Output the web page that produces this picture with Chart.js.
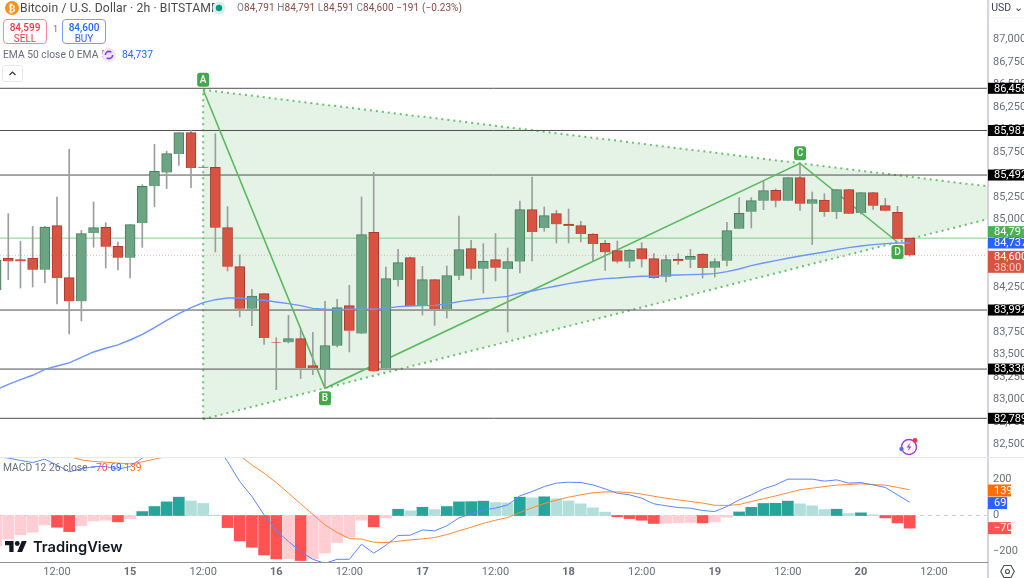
<!DOCTYPE html>
<html>
<head>
<meta charset="utf-8">
<title>BTC/USD 2h</title>
<script src="https://cdn.jsdelivr.net/npm/chart.js@4"></script>
<style>
  html, body { margin: 0; padding: 0; background: #fff; overflow: hidden; }
  body { width: 1024px; height: 578px; position: relative; font-family: Roboto, sans-serif; color: #4a4e59; }
  canvas { position: absolute; left: 0; }
  #priceChart { top: 0; }
  #macdChart { top: 457px; }
  .abs { position: absolute; white-space: nowrap; }
  .sep { left: 0; top: 457px; width: 1024px; height: 1px; background: #e4e6ec; }
  .title { left: 20px; top: 0; font-size: 12.2px; line-height: 16px; color: #4a4a4a; letter-spacing: 0.1px; }
  .ohlc { left: 237px; top: 1px; font-size: 10px; line-height: 14px; color: #8a4a45; letter-spacing: 0.1px; }
  .ohlc i { font-style: normal; color: #7b7e88; }
  .box { top: 19px; width: 42px; height: 22px; border-radius: 4px; text-align: center; font-size: 10px; line-height: 11px; background: #fff; padding-top: 2px; height: 21px; }
  .box b { font-weight: 500; display: block; }
  .sell { left: 3px; border: 1px solid #f58a95; color: #f23645; }
  .buy { left: 62px; border: 1px solid #7d9dff; color: #2962ff; }
  .ema { left: 3px; top: 48px; font-size: 10.3px; line-height: 14px; color: #6a6d78; }
  .chev { left: 2px; top: 65px; width: 19px; height: 15px; border: 1px solid #e6e8ee; border-radius: 3px; background: #fff; }
  .usd { left: 990px; top: 0; width: 34px; height: 17px; background: #fff; font-size: 10.5px; line-height: 16px; color: #3c4256; box-shadow: 0 0 3px #e4e6ec; text-align: center; }
  .macdLeg { left: 3px; top: 461px; font-size: 10.3px; line-height: 14px; color: #6a6d78; }
  .logoText { left: 33px; top: 535px; font-family: Inter, sans-serif; font-weight: 600; font-size: 14.7px; line-height: 24px; color: #131722; }
</style>
</head>
<body>
<canvas id="priceChart" width="1024" height="457"></canvas>
<canvas id="macdChart" width="1024" height="121"></canvas>
<div class="abs sep"></div>

<svg class="abs" style="left:5px;top:1px" width="14" height="14"><circle cx="7" cy="7" r="7" fill="#f7931a"/><text x="7" y="10.5" font-size="10" font-weight="700" fill="#fff" text-anchor="middle" font-family="DejaVu Sans">₿</text></svg>
<div class="abs title">Bitcoin / U.S. Dollar · 2h · BITSTAMP</div>
<svg class="abs" style="left:212px;top:1px" width="14" height="14"><circle cx="7" cy="7" r="6.5" fill="#d8efec"/><circle cx="7" cy="7" r="3.2" fill="#089981"/></svg>
<div class="abs ohlc"><i>O</i>84,791 <i>H</i>84,791 <i>L</i>84,591 <i>C</i>84,600 −191 (−0.23%)</div>
<div class="abs box sell"><b>84,599</b>SELL</div>
<div class="abs" style="left:53px;top:24px;font-size:9px;color:#6a6d78">1</div>
<div class="abs box buy"><b>84,600</b>BUY</div>
<div class="abs ema">EMA 50 close 0 EMA 50</div>
<svg class="abs" style="left:102px;top:48px" width="14" height="14"><circle cx="7" cy="7" r="7" fill="#eee6fb"/><circle cx="7" cy="7" r="3.6" fill="none" stroke="#7c3fe0" stroke-width="1.6" stroke-dasharray="8 3"/></svg>
<div class="abs ema" style="left:122px;color:#2962ff">84,737</div>
<div class="abs chev"><svg width="19" height="15"><path d="M6.5 9 L9.5 6 L12.5 9" fill="none" stroke="#333" stroke-width="1.2"/></svg></div>
<div class="abs usd">USD ⌄</div>
<div class="abs macdLeg">MACD 12 26 close <span style="color:#ff5252">−70</span> <span style="color:#2962ff">69</span> <span style="color:#ff6d00">139</span></div>

<svg class="abs" style="left:5px;top:541px" width="22" height="11" viewBox="0 4 36 18"><path d="M14 22H7V11H0V4h14v18zM28 22h-8l7.5-18h8L28 22z" fill="#131722"/><circle cx="20" cy="8" r="4" fill="#131722"/></svg>
<div class="abs logoText">TradingView</div>

<svg class="abs" style="left:898px;top:437px" width="22" height="20"><circle cx="11" cy="10" r="7.5" fill="none" stroke="#a23cc4" stroke-width="1.4"/><path d="M12.5 5.5 L8.5 10.5 H11 L9.5 14.5 L13.5 9.5 H11 Z" fill="#a23cc4"/><circle cx="17" cy="3.5" r="2.4" fill="#f23645"/><circle cx="3.5" cy="12" r="2.2" fill="#5b6cf0"/></svg>
<svg class="abs" style="left:1000px;top:564px" width="15" height="15" viewBox="0 0 15 15"><path d="M4 1.5 H11 L14.3 7.5 L11 13.5 H4 L0.7 7.5 Z" fill="none" stroke="#4a4e59" stroke-width="1.1"/><circle cx="7.5" cy="7.5" r="2" fill="none" stroke="#4a4e59" stroke-width="1.1"/></svg>

<script>
// candles, one per 2h, first one is cut by the left edge
const candleOpen = [84211,84570,84552,84570,84441,84930,84352,84089,84848,84911,84700,84574,84959,85367,85519,85726,85963,85574,85578,84907,84474,84007,84174,83633,83633,83674,83374,83333,83596,84041,83730,84856,83348,84326,84574,84037,84330,84004,84374,84674,84452,84552,84448,84530,85107,84904,85063,84948,84930,84837,84733,84652,84530,84674,84563,84363,84559,84552,84615,84463,84541,84896,85085,85207,85322,85207,85463,85174,85215,85081,85330,85070,85296,85152,85078,84791];
const candleHigh = [84570,85063,84756,84922,84922,85248,85778,84878,85193,84963,84748,84941,85385,85833,85759,85963,85989,85581,85952,85141,84604,84222,84174,83685,83933,83785,83744,84089,84111,84267,85248,85522,84470,84667,84581,84478,84330,84481,85037,84767,84730,84841,84681,85204,85470,85137,85100,85115,84978,84841,84767,84759,84667,84741,84618,84600,84618,84667,84618,84563,84967,85241,85241,85426,85337,85463,85611,85304,85285,85333,85333,85296,85296,85233,85144,84791];
const candleLow = [84190,84330,84237,84248,84296,84059,83726,83870,84689,84459,84437,84348,84689,85141,85341,85600,85352,85574,84637,84426,83915,83819,83611,83107,83626,83230,83274,83137,83581,83526,83730,83311,83341,84256,84037,83937,83822,83904,84330,84333,84181,84315,83748,84404,84537,84867,84737,84737,84748,84537,84433,84515,84463,84470,84344,84304,84500,84463,84348,84359,84481,84896,84904,85107,85137,85207,85100,84719,85033,85007,85063,85056,85111,85093,84781,84591];
const candleClose = [84544,84533,84533,84441,84915,84348,84089,84841,84907,84696,84574,84941,85367,85533,85730,85963,85570,85581,84907,84474,84007,84148,83681,83630,83674,83348,83352,83596,84018,83763,84830,83311,84341,84518,84037,84330,84004,84374,84663,84452,84537,84463,84530,85107,84859,85041,84944,84926,84837,84726,84633,84530,84659,84556,84348,84552,84537,84589,84459,84530,84874,85067,85207,85319,85207,85463,85174,85219,85081,85330,85063,85296,85152,85096,84781,84600];
const emaLine = [83107,83167,83219,83267,83333,83370,83404,83467,83526,83567,83604,83659,83722,83796,83878,83952,84019,84074,84107,84126,84126,84111,84100,84081,84063,84041,84011,84000,83996,84000,84000,84000,84011,84030,84037,84041,84044,84059,84085,84104,84119,84130,84144,84181,84204,84233,84259,84285,84307,84326,84341,84348,84359,84367,84370,84378,84381,84385,84389,84396,84419,84448,84485,84515,84541,84567,84593,84615,84637,84663,84685,84704,84719,84730,84737,84737];

// MACD pane, same candle order
const macdHist = [-170,-131,-107,-93,-52,-65,-89,-56,-30,-26,-35,-17,22,50,76,102,81,67,2,-67,-141,-176,-219,-241,-240,-250,-241,-209,-150,-120,-26,-63,-13,35,26,46,33,50,76,77,80,72,70,102,98,104,93,81,65,43,19,-7,-17,-26,-44,-43,-39,-38,-41,-35,-9,20,46,67,68,80,65,54,33,35,11,15,4,-13,-41,-70];
const macdLine = [328,319,306,294,313,280,243,259,272,272,257,272,319,383,439,457,457,439,393,300,189,106,4,-83,-144,-200,-243,-265,-243,-243,-159,-209,-165,-111,-109,-80,-85,-57,-13,9,31,41,59,109,133,161,180,185,183,170,148,124,115,96,65,54,44,41,28,22,50,87,115,148,170,202,202,202,191,198,180,183,170,156,115,74];
const signalLine = [439,430,411,393,374,350,328,309,300,296,291,287,298,313,328,346,365,383,393,374,333,281,235,183,124,65,6,-52,-94,-128,-131,-148,-150,-143,-135,-130,-122,-106,-85,-65,-43,-26,-11,17,43,67,85,102,115,126,131,131,128,119,107,96,87,78,69,57,56,61,78,93,109,126,143,152,161,169,172,176,172,169,156,143];

const priceTicks = [87000,86750,86500,86250,86000,85750,85500,85250,85000,84750,84500,84250,84000,83750,83500,83250,83000,82750,82500];
const macdTicks = [200,0,-200];
const timeTickAt = [5,11,17,23,29,35,41,47,53,59,65,71,77];
const timeLabels = ['12:00','15','12:00','16','12:00','17','12:00','18','12:00','19','12:00','20','12:00'];

const levels = [86456,85987,85492,83992,83336,82789];
const lastOpen = 84791;
const lastClose = 84600;
const lastEma = 84737;

// ABCD triangle, index and price
const patternIdx = [17,27,66,74];
const patternPrice = [86440,83122,85622,84748];
const patternNames = ['A','B','C','D'];
const upperEdgePrice = [86440,85367];
const lowerEdgePrice = [82778,85000];

const xMin = 0.319;
const xMax = 81.35;
const green = '#6ba583';
const red = '#d75442';
const greenDark = '#4a7c60';
const redDark = '#a53d30';
const axisFont = '"Liberation Sans Narrow", Roboto, sans-serif';
const tagFont = '11px ' + axisFont;

function fmt(v) {
  return v.toLocaleString('en-US').replace('-', '\u2212');
}
function edge(prices) {
  return [{x: patternIdx[0], y: prices[0]}, {x: xMax, y: prices[1]}];
}
function flat(v) {
  return [{x: xMin, y: v}, {x: xMax, y: v}];
}
function tag(ctx, y, h, w, bg, lines) {
  ctx.fillStyle = bg;
  ctx.fillRect(988, y - h / 2, w, h);
  ctx.textAlign = 'left';
  ctx.textBaseline = 'middle';
  lines.forEach(function(l, n) {
    ctx.font = tagFont;
    ctx.fillStyle = l.c || '#fff';
    ctx.fillText(l.t, 994, y + (n - (lines.length - 1) / 2) * 11 + 0.5);
  });
}

const axisLine = {
  id: 'axisLine',
  beforeDraw(chart) {
    const ctx = chart.ctx;
    ctx.save();
    ctx.fillStyle = '#d3d5da';
    ctx.fillRect(987, 0, 2, chart.height);
    ctx.restore();
  }
};

const priceTags = {
  id: 'priceTags',
  afterDraw(chart) {
    const ctx = chart.ctx;
    const y = chart.scales.y;
    const x = chart.scales.x;
    ctx.save();
    levels.forEach(function(v) {
      tag(ctx, y.getPixelForValue(v), 11, 36, '#000', [{t: fmt(v)}]);
    });
    // these three sit apart from their real price so they do not overlap
    tag(ctx, y.getPixelForValue(lastOpen) - 6.5, 11, 36, '#4caf50', [{t: fmt(lastOpen)}]);
    tag(ctx, y.getPixelForValue(lastEma), 11, 36, '#2962ff', [{t: fmt(lastEma)}]);
    tag(ctx, y.getPixelForValue(lastClose) + 6.5, 22, 36, red, [{t: fmt(lastClose)}, {t: '38:00', c: '#f6c8c0'}]);

    const shift = [-10, 10, -10, 10];
    patternNames.forEach(function(n, i) {
      const px = x.getPixelForValue(patternIdx[i]);
      const py = y.getPixelForValue(patternPrice[i]) + shift[i];
      ctx.fillStyle = '#43a84a';
      ctx.beginPath();
      ctx.roundRect(px - 6, py - 7, 12, 14, 2.5);
      ctx.fill();
      ctx.fillStyle = '#fff';
      ctx.font = '500 10px Roboto';
      ctx.textAlign = 'center';
      ctx.textBaseline = 'middle';
      ctx.fillText(n, px, py + 0.5);
    });
    ctx.restore();
  }
};

const macdTags = {
  id: 'macdTags',
  afterDraw(chart) {
    const ctx = chart.ctx;
    const y = chart.scales.y;
    ctx.save();
    tag(ctx, y.getPixelForValue(139), 12, 23, '#ff6d00', [{t: '139'}]);
    tag(ctx, y.getPixelForValue(69), 12, 19, '#2962ff', [{t: '69'}]);
    tag(ctx, y.getPixelForValue(-70), 12, 23, '#ff5252', [{t: '\u221270'}]);
    ctx.restore();
  }
};

const body = candleOpen.map(function(o, i) { return {x: i, y: [o, candleClose[i]]}; });
const wick = candleOpen.map(function(o, i) { return {x: i, y: [candleLow[i], candleHigh[i]]}; });
const up = candleOpen.map(function(o, i) { return candleClose[i] >= o; });

const lineBase = {type: 'line', pointRadius: 0, fill: false, tension: 0};
const levelSets = levels.map(function(v) {
  return Object.assign({}, lineBase, {data: flat(v), borderColor: '#4f4f4f', borderWidth: 1, order: 6});
});

new Chart(document.getElementById('priceChart'), {
  type: 'bar',
  data: {
    datasets: [
      Object.assign({}, lineBase, {data: edge(upperEdgePrice), borderColor: '#6cc070', borderWidth: 2, borderDash: [2, 4], fill: {target: '+1'}, backgroundColor: 'rgba(76,175,80,0.15)', order: 8}),
      Object.assign({}, lineBase, {data: edge(lowerEdgePrice), borderColor: '#6cc070', borderWidth: 2, borderDash: [2, 4], order: 8}),
      Object.assign({}, lineBase, {data: [{x: patternIdx[0], y: lowerEdgePrice[0]}, {x: patternIdx[0], y: upperEdgePrice[0]}], borderColor: '#6cc070', borderWidth: 2, borderDash: [2, 4], order: 8}),
      ...levelSets,
      Object.assign({}, lineBase, {data: flat(lastOpen), borderColor: '#86ca89', borderWidth: 1, order: 5}),
      Object.assign({}, lineBase, {data: flat(lastClose), borderColor: '#e9b3aa', borderWidth: 1, borderDash: [1, 2], order: 5}),
      Object.assign({}, lineBase, {data: patternIdx.map(function(x, i) { return {x: x, y: patternPrice[i]}; }), borderColor: '#5cb860', borderWidth: 1.6, order: 4}),
      {data: wick, backgroundColor: '#9a9e9c', barThickness: 1, grouped: false, order: 3},
      {
        data: body,
        backgroundColor: up.map(function(u) { return u ? green : red; }),
        borderColor: up.map(function(u) { return u ? greenDark : redDark; }),
        borderWidth: 1, barThickness: 10, grouped: false, order: 2
      },
      Object.assign({}, lineBase, {data: emaLine.map(function(v, i) { return {x: i, y: v}; }), borderColor: '#6d94ff', borderWidth: 1.4, order: 1}),
    ]
  },
  options: {
    responsive: false,
    animation: false,
    devicePixelRatio: 1,
    layout: {padding: 0},
    plugins: {legend: {display: false}, tooltip: {enabled: false}},
    scales: {
      x: {type: 'linear', min: xMin, max: xMax, display: false, offset: false},
      y: {
        position: 'right', min: 82359, max: 87437,
        grid: {display: false, drawTicks: false},
        border: {display: false},
        ticks: {autoSkip: false, padding: 6, color: '#6a6d78', font: {family: axisFont, size: 11}, callback: fmt},
        afterBuildTicks(axis) { axis.ticks = priceTicks.map(function(v) { return {value: v}; }); },
        afterFit(axis) { axis.width = 37; axis.paddingTop = 0; axis.paddingBottom = 0; }
      }
    }
  },
  plugins: [axisLine, priceTags]
});

const histColor = macdHist.map(function(v, i) {
  const rising = i === 0 ? true : v > macdHist[i - 1];
  if (v >= 0) return rising ? '#26a69a' : '#b2dfdb';
  return rising ? '#ffcdd2' : '#ff5252';
});

new Chart(document.getElementById('macdChart'), {
  type: 'bar',
  data: {
    datasets: [
      Object.assign({}, lineBase, {data: flat(0), borderColor: '#c8cad0', borderWidth: 1, borderDash: [4, 4], order: 4}),
      {data: macdHist.map(function(v, i) { return {x: i, y: v}; }), backgroundColor: histColor, barThickness: 11, grouped: false, order: 3},
      Object.assign({}, lineBase, {data: signalLine.map(function(v, i) { return {x: i, y: v}; }), borderColor: '#ff8a33', borderWidth: 1, order: 2}),
      Object.assign({}, lineBase, {data: macdLine.map(function(v, i) { return {x: i, y: v}; }), borderColor: '#5b85ff', borderWidth: 1, order: 1}),
    ]
  },
  options: {
    responsive: false,
    animation: false,
    devicePixelRatio: 1,
    layout: {padding: 0},
    plugins: {legend: {display: false}, tooltip: {enabled: false}},
    scales: {
      x: {
        type: 'linear', min: xMin, max: xMax, offset: false,
        grid: {display: false, drawTicks: false},
        border: {color: '#8f9196', width: 1},
        ticks: {
          autoSkip: false, maxRotation: 0, padding: 4, color: '#6a6d78',
          font(c) {
            const isDay = c.tick && timeLabels[timeTickAt.indexOf(c.tick.value)].indexOf(':') < 0;
            return {family: axisFont, size: 11, weight: isDay ? '700' : '400'};
          },
          callback(v) { return timeLabels[timeTickAt.indexOf(v)]; }
        },
        afterBuildTicks(axis) { axis.ticks = timeTickAt.map(function(v) { return {value: v}; }); },
        afterFit(axis) { axis.height = 16; axis.paddingLeft = 0; axis.paddingRight = 0; }
      },
      y: {
        position: 'right', min: -258, max: 325,
        grid: {display: false, drawTicks: false},
        border: {display: false},
        ticks: {autoSkip: false, padding: 6, color: '#6a6d78', font: {family: axisFont, size: 11}, callback: fmt},
        afterBuildTicks(axis) { axis.ticks = macdTicks.map(function(v) { return {value: v}; }); },
        afterFit(axis) { axis.width = 37; axis.paddingTop = 0; axis.paddingBottom = 0; }
      }
    }
  },
  plugins: [axisLine, macdTags]
});
</script>
</body>
</html>
